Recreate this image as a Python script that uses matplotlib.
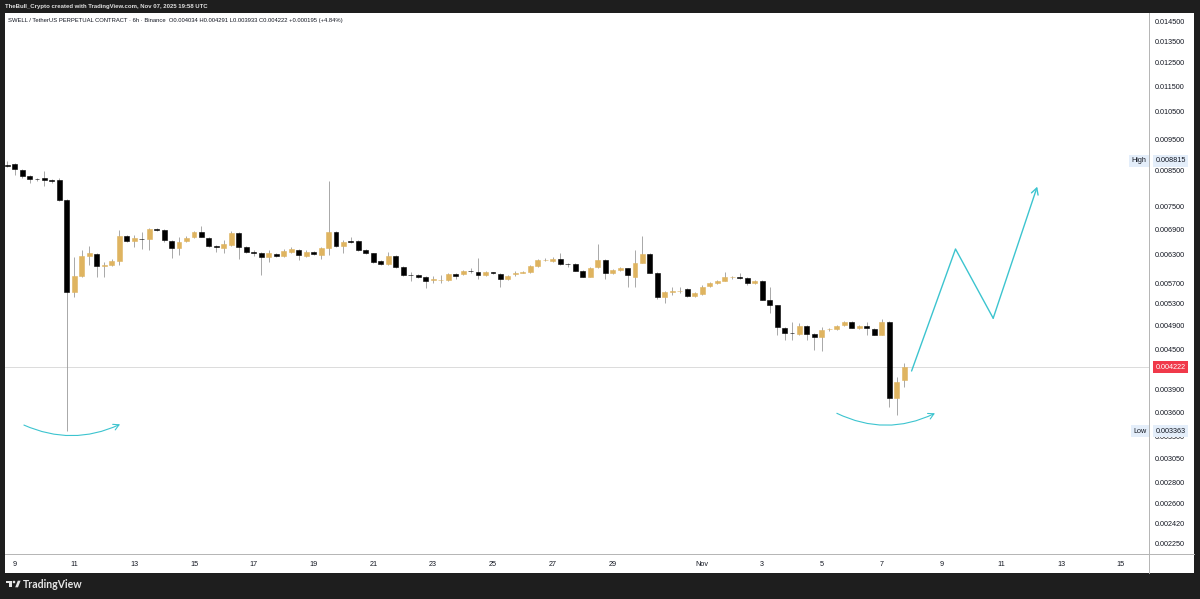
import matplotlib
matplotlib.use('Agg')
import matplotlib.pyplot as plt
import matplotlib.transforms as mtransforms
from matplotlib.patches import FancyArrowPatch, Rectangle, Polygon, Circle
from matplotlib.lines import Line2D
import numpy as np
import pandas as pd

# 6h candles SWELL/USDT, from Oct 8 18:00 to Nov 7 18:00
start = '2025-10-08 18:00'
opens = [
    0.008681, 0.008697, 0.008543, 0.008347, 0.008259, 0.008274, 0.008215, 0.008230, 0.007663, 0.005531,
    0.005846, 0.006278, 0.006323, 0.006068, 0.006079, 0.006167, 0.006741, 0.006630, 0.006670, 0.006663,
    0.006910, 0.006886, 0.006630, 0.006465, 0.006630, 0.006710, 0.006845, 0.006700, 0.006494, 0.006465,
    0.006528, 0.006806, 0.006489, 0.006356, 0.006338, 0.006262, 0.006329, 0.006284, 0.006368, 0.006413,
    0.006278, 0.006368, 0.006300, 0.006452, 0.006830, 0.006505, 0.006622, 0.006622, 0.006413, 0.006338,
    0.006167, 0.006101, 0.006284, 0.006042, 0.005867, 0.005867, 0.005832, 0.005773, 0.005763, 0.005763,
    0.005888, 0.005878, 0.005951, 0.005930, 0.005867, 0.005919, 0.005882, 0.005784, 0.005882, 0.005909,
    0.005924, 0.006064, 0.006182, 0.006160, 0.006211, 0.006101, 0.006101, 0.005957, 0.005832, 0.006030,
    0.006189, 0.005915, 0.005972, 0.006008, 0.005819, 0.006129, 0.006316, 0.005915, 0.005417, 0.005531,
    0.005541, 0.005575, 0.005444, 0.005483, 0.005641, 0.005696, 0.005743, 0.005815, 0.005815, 0.005798,
    0.005696, 0.005749, 0.005367, 0.005266, 0.004863, 0.004772, 0.004755, 0.004898, 0.004755, 0.004709,
    0.004832, 0.004835, 0.004910, 0.004969, 0.004852, 0.004898, 0.004840, 0.004738, 0.004969, 0.003781,
    0.004034]
highs = [
    0.008815, 0.008743, 0.008558, 0.008377, 0.008289, 0.008498, 0.008259, 0.008289, 0.007690, 0.006262,
    0.006413, 0.006505, 0.006345, 0.006151, 0.006211, 0.006886, 0.006765, 0.006765, 0.006845, 0.006935,
    0.006935, 0.006910, 0.006646, 0.006717, 0.006741, 0.006862, 0.006986, 0.006717, 0.006528, 0.006646,
    0.006862, 0.006837, 0.006505, 0.006413, 0.006368, 0.006413, 0.006345, 0.006436, 0.006475, 0.006436,
    0.006402, 0.006390, 0.006482, 0.008210, 0.006850, 0.006646, 0.006724, 0.006646, 0.006425, 0.006345,
    0.006189, 0.006374, 0.006300, 0.006057, 0.005936, 0.005888, 0.005846, 0.005846, 0.005867, 0.005909,
    0.005909, 0.005972, 0.006008, 0.006226, 0.005940, 0.005930, 0.005898, 0.005867, 0.005940, 0.005961,
    0.006079, 0.006211, 0.006222, 0.006244, 0.006338, 0.006112, 0.006112, 0.005972, 0.006046, 0.006551,
    0.006211, 0.005993, 0.006036, 0.006025, 0.006413, 0.006741, 0.006334, 0.005930, 0.005541, 0.005626,
    0.005620, 0.005591, 0.005522, 0.005651, 0.005722, 0.005763, 0.005924, 0.005846, 0.005903, 0.005815,
    0.005763, 0.005763, 0.005626, 0.005272, 0.004875, 0.004969, 0.004940, 0.004910, 0.004763, 0.004880,
    0.004858, 0.004910, 0.004980, 0.004980, 0.004910, 0.004969, 0.004849, 0.005011, 0.004980, 0.004083,
    0.004291]
lows = [
    0.008619, 0.008377, 0.008289, 0.008142, 0.008201, 0.008055, 0.008142, 0.007636, 0.003363, 0.005430,
    0.005826, 0.006079, 0.005832, 0.005832, 0.006057, 0.006079, 0.006599, 0.006489, 0.006429, 0.006413,
    0.006874, 0.006599, 0.006226, 0.006300, 0.006599, 0.006693, 0.006717, 0.006482, 0.006374, 0.006352,
    0.006505, 0.006204, 0.006345, 0.006278, 0.005867, 0.006151, 0.006256, 0.006256, 0.006345, 0.006189,
    0.006256, 0.006300, 0.006204, 0.006300, 0.006482, 0.006338, 0.006567, 0.006390, 0.006323, 0.006133,
    0.006079, 0.006079, 0.006025, 0.005846, 0.005749, 0.005805, 0.005595, 0.005702, 0.005696, 0.005743,
    0.005784, 0.005857, 0.005903, 0.005778, 0.005846, 0.005888, 0.005626, 0.005763, 0.005846, 0.005898,
    0.005909, 0.006046, 0.006167, 0.006145, 0.006079, 0.006042, 0.005940, 0.005815, 0.005815, 0.006014,
    0.005778, 0.005888, 0.005951, 0.005626, 0.005626, 0.006112, 0.005898, 0.005394, 0.005304, 0.005463,
    0.005502, 0.005430, 0.005424, 0.005463, 0.005620, 0.005681, 0.005733, 0.005784, 0.005784, 0.005661,
    0.005681, 0.005358, 0.005119, 0.004738, 0.004654, 0.004654, 0.004738, 0.004654, 0.004491, 0.004480,
    0.004806, 0.004823, 0.004893, 0.004849, 0.004840, 0.004738, 0.004729, 0.004729, 0.003669, 0.003562,
    0.003933]
closes = [
    0.008665, 0.008550, 0.008347, 0.008259, 0.008245, 0.008230, 0.008201, 0.007663, 0.005527, 0.005846,
    0.006278, 0.006338, 0.006064, 0.006079, 0.006174, 0.006749, 0.006622, 0.006686, 0.006658, 0.006910,
    0.006891, 0.006646, 0.006465, 0.006606, 0.006700, 0.006830, 0.006724, 0.006505, 0.006482, 0.006544,
    0.006820, 0.006475, 0.006361, 0.006345, 0.006262, 0.006338, 0.006271, 0.006390, 0.006429, 0.006293,
    0.006374, 0.006323, 0.006452, 0.006830, 0.006505, 0.006606, 0.006610, 0.006413, 0.006338, 0.006151,
    0.006094, 0.006284, 0.006042, 0.005867, 0.005857, 0.005819, 0.005743, 0.005784, 0.005773, 0.005888,
    0.005853, 0.005951, 0.005940, 0.005857, 0.005924, 0.005905, 0.005784, 0.005853, 0.005903, 0.005924,
    0.006057, 0.006189, 0.006196, 0.006211, 0.006094, 0.006090, 0.005957, 0.005832, 0.006021, 0.006189,
    0.005915, 0.005972, 0.006008, 0.005867, 0.006129, 0.006316, 0.005915, 0.005417, 0.005527, 0.005541,
    0.005551, 0.005444, 0.005496, 0.005626, 0.005708, 0.005743, 0.005819, 0.005819, 0.005813, 0.005708,
    0.005749, 0.005367, 0.005266, 0.004880, 0.004766, 0.004763, 0.004898, 0.004755, 0.004709, 0.004823,
    0.004837, 0.004898, 0.004969, 0.004863, 0.004898, 0.004852, 0.004738, 0.004969, 0.003781, 0.004010,
    0.004222]

price_ticks = [0.0145, 0.0135, 0.0125, 0.0115, 0.0105, 0.0095, 0.0085, 0.0075, 0.0069, 0.0063,
               0.0057, 0.0053, 0.0049, 0.0045, 0.0039, 0.0036, 0.0033, 0.00305, 0.0028, 0.0026,
               0.00242, 0.00225]
date_ticks = ['2025-10-09', '2025-10-11', '2025-10-13', '2025-10-15', '2025-10-17', '2025-10-19',
              '2025-10-21', '2025-10-23', '2025-10-25', '2025-10-27', '2025-10-29', '2025-11-01',
              '2025-11-03', '2025-11-05', '2025-11-07', '2025-11-09', '2025-11-11', '2025-11-13',
              '2025-11-15']
date_labels = ['9', '11', '13', '15', '17', '19', '21', '23', '25', '27', '29', 'Nov',
               '3', '5', '7', '9', '11', '13', '15']
hi_value = 0.008815
lo_value = 0.003363

# drawings (projection + two bottoms)
zigzag_times = ['2025-11-08 00:00', '2025-11-09 11:15', '2025-11-10 17:30', '2025-11-12 04:50']
zigzag_prices = [0.004167, 0.006436, 0.005029, 0.008036]
arc1_times = ['2025-10-09 07:30', '2025-10-12 12:40']
arc1_prices = [0.003437, 0.003446]
arc2_times = ['2025-11-05 12:00', '2025-11-08 18:45']
arc2_prices = [0.003584, 0.003584]

plt.rcParams['font.family'] = ['Liberation Sans', 'DejaVu Sans']

origin = pd.Timestamp('2025-10-09')
def days(ts):
    return (pd.to_datetime(ts) - origin) / pd.Timedelta(days=1)

t = np.asarray(days(pd.date_range(start, periods=len(opens), freq='6h')))
o = np.array(opens)
c = np.array(closes)

W, H = 1200, 599
fig = plt.figure(figsize=(12, 5.99), dpi=100, facecolor='#1e1e1e')
px = mtransforms.Affine2D().scale(1 / W, -1 / H).translate(0, 1) + fig.transFigure

def fx(x):
    return x / W

def fy(y):
    return 1 - y / H

fig.patches.append(Rectangle((5, 13), 1189, 560, transform=px, facecolor='white',
                             edgecolor='none', zorder=-5))

ax = fig.add_axes([fx(5), fy(554), fx(1149) - fx(5), fy(13) - fy(554)])
ax.set_zorder(1)
ax.set_facecolor('white')
ax.set_yscale('log')
ax.set_ylim(0.002171, 0.01492)
ax.set_xlim(-0.32, 37.94)
for s in ax.spines.values():
    s.set_visible(False)

ax.yaxis.tick_right()
ax.set_yticks(price_ticks)
ax.set_yticks([], minor=True)
ax.set_yticklabels([f'{v:.6f}' for v in price_ticks])
ax.tick_params(axis='y', length=0, pad=4.3, labelsize=5.2, colors='#131722')
ax.set_xticks(np.asarray(days(date_ticks)))
ax.set_xticklabels(date_labels)
ax.tick_params(axis='x', length=0, pad=5.0, labelsize=5.2, colors='#131722')

gold = '#dfb460'
cols = [gold if cc >= oo else '#000000' for oo, cc in zip(o, c)]
ax.vlines(t, lows, highs, color='#9a9a9a', lw=0.6, zorder=2)
ax.bar(t, np.abs(c - o), bottom=np.minimum(o, c), width=0.165, color=cols,
       edgecolor=cols, linewidth=0.4, zorder=3)

ax.axhline(closes[-1], color='#d6d6d6', lw=0.6, zorder=1)

cyan = '#3cc4cf'
zt = np.asarray(days(zigzag_times))
ax.plot(zt[:3], zigzag_prices[:3], color=cyan, lw=1.0, zorder=4, solid_capstyle='round')
ax.add_patch(FancyArrowPatch((zt[2], zigzag_prices[2]), (zt[3], zigzag_prices[3]),
                             arrowstyle='->,head_length=0.45,head_width=0.25', mutation_scale=10,
                             color=cyan, lw=1.0, shrinkA=0, shrinkB=0, zorder=4))
for tt, pp, rad in [(arc1_times, arc1_prices, 0.225), (arc2_times, arc2_prices, 0.24)]:
    ta = np.asarray(days(tt))
    ax.add_patch(FancyArrowPatch((ta[0], pp[0]), (ta[1], pp[1]),
                                 connectionstyle=f'arc3,rad={rad}',
                                 arrowstyle='->,head_length=0.4,head_width=0.22', mutation_scale=10,
                                 color=cyan, lw=0.8, shrinkA=0, shrinkB=0, zorder=4))

# right side labels
side = mtransforms.blended_transform_factory(ax.transAxes, ax.transData)
ax.text(1.0055, closes[-1], f'{closes[-1]:.6f}', transform=side, fontsize=5.2, color='white',
        va='center', ha='left', zorder=6,
        bbox=dict(boxstyle='square,pad=0.35', fc='#f0394a', ec='none'))
for label, val in [('High', hi_value), ('Low', lo_value)]:
    ax.text(1.0055, val, f'{val:.6f}', transform=side, fontsize=5.2, color='#131722',
            va='center', ha='left', zorder=6,
            bbox=dict(boxstyle='square,pad=0.35', fc='#e4eefa', ec='none'))
    ax.text(0.998, val, label, transform=side, fontsize=5.2, color='#131722',
            va='center', ha='right', zorder=6,
            bbox=dict(boxstyle='square,pad=0.35', fc='#e4eefa', ec='none'))

# frame lines
fig.lines.append(Line2D([1149, 1149], [13, 573], transform=px, color='#b4b4b4', lw=0.7, zorder=5))
fig.lines.append(Line2D([5, 1194], [554, 554], transform=px, color='#b4b4b4', lw=0.7, zorder=5))

fig.text(fx(5), fy(6.5), 'TheBull_Crypto created with TradingView.com, Nov 07, 2025 19:58 UTC',
         color='#e0e0e0', fontsize=4.3, fontweight='bold', va='center', ha='left')
fig.text(fx(8), fy(20.5),
         'SWELL / TetherUS PERPETUAL CONTRACT · 6h · Binance  O0.004034 H0.004291 '
         'L0.003933 C0.004222 +0.000195 (+4.84%)',
         color='#131722', fontsize=4.2, va='center', ha='left', zorder=6)

# TradingView logo
logo = '#e6e6e6'
fig.patches.append(Rectangle((5.5, 580.7), 6.5, 2.6, transform=px, fc=logo, ec='none'))
fig.patches.append(Rectangle((9.3, 580.7), 2.7, 6.6, transform=px, fc=logo, ec='none'))
fig.patches.append(Circle((14.0, 582.0), 1.3, transform=px, fc=logo, ec='none'))
fig.patches.append(Polygon([(15.2, 587.3), (17.8, 580.7), (20.6, 580.7), (18.0, 587.3)],
                           closed=True, transform=px, fc=logo, ec='none'))
fig.text(fx(22.5), fy(584.3), 'TradingView', color=logo, fontsize=7.6, fontfamily='Lato',
         fontweight='bold', va='center', ha='left')

fig.savefig('out.png', dpi=100, facecolor=fig.get_facecolor())
